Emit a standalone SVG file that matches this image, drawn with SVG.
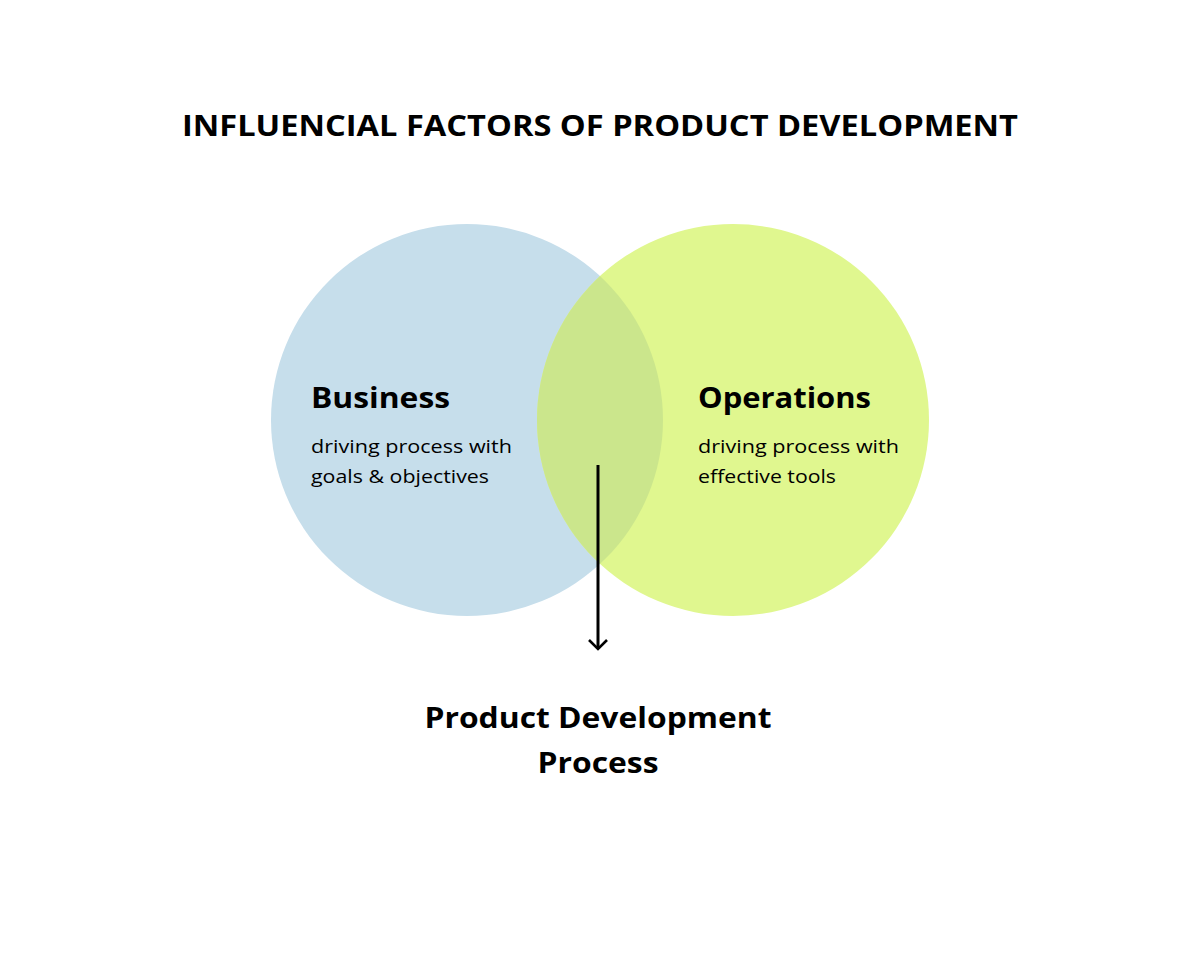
<svg xmlns="http://www.w3.org/2000/svg" width="1200" height="964" viewBox="0 0 1200 964">
<defs>
<style>
.t{font-family:"Open Sans","Liberation Sans",sans-serif;fill:#000}
.title{font-size:29px;font-weight:700}
.h{font-size:28px;font-weight:700}
.s{font-size:19px;font-weight:400}
</style>
<clipPath id="clipL"><circle cx="467" cy="420" r="196"/></clipPath>
<marker id="arr" viewBox="0 0 20 20" refX="10" refY="10" markerWidth="20" markerHeight="20" markerUnits="userSpaceOnUse" orient="auto">
<path d="M1,1 L10,10 L1,19" fill="none" stroke="#000" stroke-width="2.6"/>
</marker>
</defs>
<rect width="1200" height="964" fill="#fff"/>
<text class="t title" x="600" y="136" text-anchor="middle" textLength="836" lengthAdjust="spacingAndGlyphs">INFLUENCIAL FACTORS OF PRODUCT DEVELOPMENT</text>
<g id="business">
<circle cx="467" cy="420" r="196" fill="#c6deeb"/>
<text class="t h" x="311" y="408" textLength="139" lengthAdjust="spacingAndGlyphs">Business</text>
<text class="t s" x="311" y="453" textLength="201" lengthAdjust="spacingAndGlyphs">driving process with</text>
<text class="t s" x="311" y="483" textLength="178" lengthAdjust="spacingAndGlyphs">goals &amp; objectives</text>
</g>
<g id="operations">
<circle cx="733" cy="420" r="196" fill="#e0f78f"/>
<circle cx="733" cy="420" r="196" fill="#cbe68c" clip-path="url(#clipL)"/>
<text class="t h" x="698" y="408" textLength="173" lengthAdjust="spacingAndGlyphs">Operations</text>
<text class="t s" x="698" y="453" textLength="201" lengthAdjust="spacingAndGlyphs">driving process with</text>
<text class="t s" x="698" y="483" textLength="138" lengthAdjust="spacingAndGlyphs">effective tools</text>
</g>
<g id="connectors">
<line x1="598" y1="465" x2="598" y2="649" stroke="#000" stroke-width="3" marker-end="url(#arr)"/>
</g>
<g id="product">
<text class="t h" x="598" y="728" text-anchor="middle" textLength="347" lengthAdjust="spacingAndGlyphs">Product Development</text>
<text class="t h" x="598" y="773" text-anchor="middle" textLength="121" lengthAdjust="spacingAndGlyphs">Process</text>
</g>
</svg>
